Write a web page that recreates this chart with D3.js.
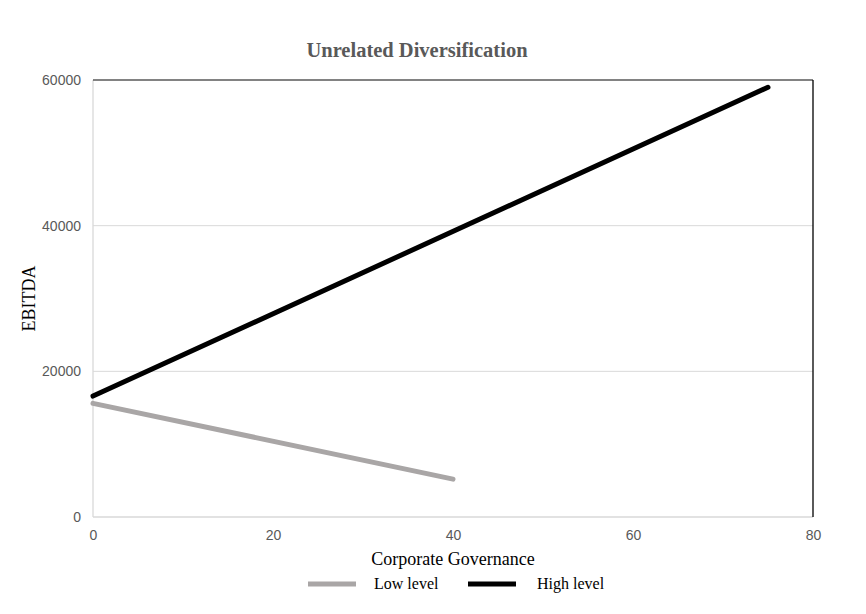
<!DOCTYPE html>
<html>
<head>
<meta charset="utf-8">
<script src="https://cdn.jsdelivr.net/npm/d3@7"></script>
<style>
  body { margin: 0; background: #fff; }
</style>
</head>
<body>
<div id="chart"></div>
<script>
// chart values
var seriesNames = ["Low level", "High level"];
var seriesColors = ["#a9a6a6", "#000000"];
var lowLevel = [[0, 15600], [40, 5200]];
var highLevel = [[0, 16600], [75, 59000]];
var xTicks = [0, 20, 40, 60, 80];
var yTicks = [0, 20000, 40000, 60000];

var width = 866, height = 614;
var margin = { top: 80, right: 53, bottom: 97, left: 93 };
var innerW = width - margin.left - margin.right;
var innerH = height - margin.top - margin.bottom;

var svg = d3.select("#chart").append("svg")
  .attr("width", width)
  .attr("height", height);

var x = d3.scaleLinear().domain([0, 80]).range([margin.left, margin.left + innerW]);
var y = d3.scaleLinear().domain([0, 60000]).range([margin.top + innerH, margin.top]);

// gridlines
svg.append("g")
  .selectAll("line")
  .data(yTicks.filter(function (d) { return d > 0 && d < 60000; }))
  .join("line")
  .attr("x1", x(0)).attr("x2", x(80))
  .attr("y1", function (d) { return y(d); })
  .attr("y2", function (d) { return y(d); })
  .attr("stroke", "#d9d9d9")
  .attr("stroke-width", 1);

// frame: light left/bottom, dark top/right
svg.append("line")
  .attr("x1", x(0)).attr("x2", x(0)).attr("y1", y(0)).attr("y2", y(60000))
  .attr("stroke", "#d9d9d9").attr("stroke-width", 1.3);
svg.append("line")
  .attr("x1", x(0)).attr("x2", x(80)).attr("y1", y(0)).attr("y2", y(0))
  .attr("stroke", "#d9d9d9").attr("stroke-width", 1.3);
svg.append("line")
  .attr("x1", x(0)).attr("x2", x(80)).attr("y1", y(60000)).attr("y2", y(60000))
  .attr("stroke", "#595959").attr("stroke-width", 1.3);
svg.append("line")
  .attr("x1", x(80)).attr("x2", x(80)).attr("y1", y(60000)).attr("y2", y(0))
  .attr("stroke", "#000").attr("stroke-width", 1.3);

// axes (labels only)
var xAxis = svg.append("g")
  .attr("transform", "translate(0," + (y(0) + 7) + ")")
  .call(d3.axisBottom(x).tickValues(xTicks).tickSize(0).tickPadding(6));
var yAxis = svg.append("g")
  .attr("transform", "translate(" + (x(0) - 10) + ",0)")
  .call(d3.axisLeft(y).tickValues(yTicks).tickSize(0).tickPadding(2).tickFormat(d3.format("d")));
[xAxis, yAxis].forEach(function (a) {
  a.select(".domain").remove();
  a.selectAll("text")
    .attr("fill", "#595959")
    .style("font-family", "'Liberation Sans', Arial, sans-serif")
    .style("font-size", "14px");
});

// series lines
var line = d3.line()
  .x(function (d) { return x(d[0]); })
  .y(function (d) { return y(d[1]); });
var series = [lowLevel, highLevel];
svg.append("g")
  .selectAll("path")
  .data(series)
  .join("path")
  .attr("d", line)
  .attr("fill", "none")
  .attr("stroke", function (d, i) { return seriesColors[i]; })
  .attr("stroke-width", 5)
  .attr("stroke-linecap", "round");

// title
svg.append("text")
  .attr("x", 417).attr("y", 57)
  .attr("text-anchor", "middle")
  .attr("fill", "#595959")
  .style("font-family", "'Liberation Serif', 'Times New Roman', serif")
  .style("font-weight", "bold")
  .style("font-size", "20.5px")
  .text("Unrelated Diversification");

// axis titles
svg.append("text")
  .attr("x", 453).attr("y", 565)
  .attr("text-anchor", "middle")
  .style("font-family", "'Liberation Serif', 'Times New Roman', serif")
  .style("font-size", "18px")
  .text("Corporate Governance");
svg.append("text")
  .attr("transform", "translate(35," + y(30000) + ") rotate(-90)")
  .attr("text-anchor", "middle")
  .style("font-family", "'Liberation Serif', 'Times New Roman', serif")
  .style("font-size", "18px")
  .text("EBITDA");

// legend
var legendX = [308, 468];
var legend = svg.append("g")
  .selectAll("g")
  .data(seriesNames)
  .join("g")
  .attr("transform", function (d, i) { return "translate(" + legendX[i] + ",584)"; });
legend.append("line")
  .attr("x1", 0).attr("x2", 48)
  .attr("stroke", function (d, i) { return seriesColors[i]; })
  .attr("stroke-width", 5);
legend.append("text")
  .attr("x", function (d, i) { return i === 0 ? 66 : 69; })
  .attr("y", 5)
  .style("font-family", "'Liberation Serif', 'Times New Roman', serif")
  .style("font-size", "16px")
  .text(function (d) { return d; });
</script>
</body>
</html>
